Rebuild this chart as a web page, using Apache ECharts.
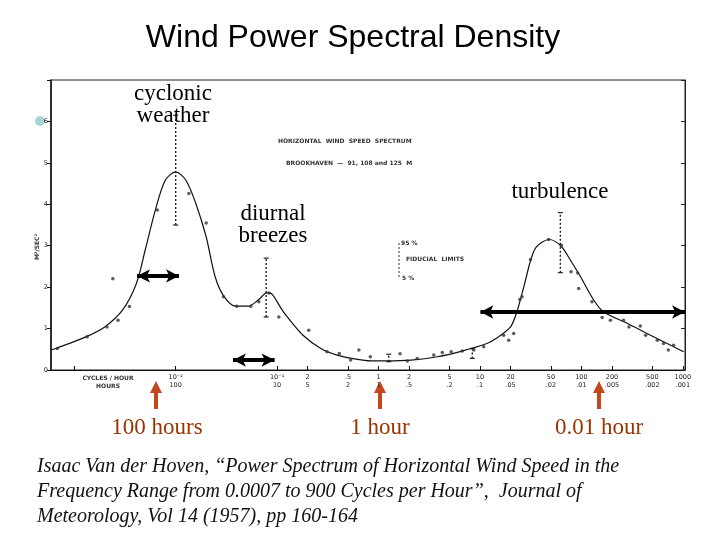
<!DOCTYPE html>
<html>
<head>
<meta charset="utf-8">
<script src="https://cdn.jsdelivr.net/npm/echarts@6/dist/echarts.min.js"></script>
<style>
  html, body { margin: 0; padding: 0; background: #fff; }
  #main { width: 720px; height: 540px; }
</style>
</head>
<body>
<div id="main"></div>
<script>
// smoothed spectrum (cycles per hour, m^2/sec^2)
var curveFreq = [0.0006, 0.00066, 0.0013, 0.002, 0.003, 0.0041, 0.005, 0.0063, 0.0079, 0.01, 0.0126, 0.0158, 0.02, 0.0245, 0.03, 0.039, 0.052, 0.066, 0.079, 0.089, 0.112, 0.126, 0.18, 0.27, 0.39, 0.58, 0.83, 1.23, 2.1, 3.8, 6.5, 11.7, 14, 20, 23.4, 27, 31.6, 36, 48, 62, 78, 98, 132, 166, 282, 479, 813, 1020];
var curveValue = [0.49, 0.52, 0.8, 1.04, 1.45, 2.09, 2.89, 3.86, 4.58, 4.78, 4.58, 4.02, 3.21, 2.25, 1.77, 1.54, 1.54, 1.7, 1.86, 1.83, 1.45, 1.28, 0.84, 0.52, 0.36, 0.27, 0.22, 0.22, 0.24, 0.32, 0.45, 0.64, 0.74, 1.04, 1.45, 2.0, 2.65, 2.97, 3.15, 3.01, 2.65, 2.25, 1.69, 1.4, 1.13, 0.84, 0.56, 0.44];

// observed points
var obsFreq = [0.00068, 0.00134, 0.0021, 0.0027, 0.0035, 0.0024, 0.0066, 0.0135, 0.02, 0.0296, 0.04, 0.055, 0.066, 0.083, 0.104, 0.205, 0.31, 0.41, 0.53, 0.64, 0.83, 1.63, 1.92, 2.4, 3.5, 4.25, 5.2, 6.7, 8.7, 10.9, 17.1, 19.2, 21.5, 24.7, 26, 31.5, 47.5, 63.5, 79, 92, 94, 127, 160, 193, 260, 294, 381, 430, 560, 645, 810, 720];
var obsValue = [0.52, 0.8, 1.04, 1.2, 1.53, 2.2, 3.86, 4.26, 3.55, 1.77, 1.54, 1.54, 1.65, 1.86, 1.28, 0.96, 0.44, 0.4, 0.24, 0.48, 0.32, 0.39, 0.22, 0.28, 0.36, 0.42, 0.44, 0.46, 0.48, 0.56, 0.84, 0.72, 0.88, 1.7, 1.77, 2.67, 3.15, 3.01, 2.37, 2.34, 1.97, 1.65, 1.27, 1.2, 1.2, 1.04, 1.06, 0.84, 0.72, 0.64, 0.6, 0.48];

// fiducial limits (vertical bars)
var errFreq = [0.01, 0.078, 62, 1.26, 8.4];
var errLow = [3.5, 1.28, 2.35, 0.2, 0.28];
var errHigh = [6.15, 2.7, 3.8, 0.38, 0.52];

// double arrows: frequency span and level
var spanFrom = [0.00416, 0.0367, 10.1];
var spanTo = [0.0108, 0.0944, 1050];
var spanLevel = [2.27, 0.24, 1.4];

// axis ticks
var tickFreqs = [0.001, 0.01, 0.1, 0.2, 0.5, 1, 2, 5, 10, 20, 50, 100, 200, 500, 1000];
var tickCycleLabels = ['', '10⁻²', '10⁻¹', '2', '.5', '1', '2', '5', '10', '20', '50', '100', '200', '500', '1000'];
var tickHourLabels = ['', '100', '10', '5', '2', '1', '.5', '.2', '.1', '.05', '.02', '.01', '.005', '.002', '.001'];
var xMinFreq = 0.00059, xMaxFreq = 1050;

var lg = Math.log10;

var myChart = echarts.init(document.getElementById('main'));

var curveData = curveFreq.map(function (f, i) { return [lg(f), curveValue[i]]; });
var obsData = obsFreq.map(function (f, i) { return [lg(f), obsValue[i]]; });
var errData = [];
for (var i = 0; i < errFreq.length; i++) {
	errData.push([lg(errFreq[i]), errLow[i]]);
	errData.push([lg(errFreq[i]), errHigh[i]]);
	errData.push('-');
}
var spanLines = [];
for (var j = 0; j < spanFrom.length; j++) {
	spanLines.push([{ coord: [lg(spanFrom[j]), spanLevel[j]] }, { coord: [lg(spanTo[j]), spanLevel[j]] }]);
}
var tickLogs = tickFreqs.map(lg);

function tickIndex(v) {
	for (var k = 0; k < tickLogs.length; k++) {
		if (Math.abs(tickLogs[k] - v) < 1e-6) return k;
	}
	return -1;
}

var scanText = { fontSize: 6, fill: '#333', fontFamily: 'DejaVu Sans', fontWeight: 'bold' };
var serif23 = '23px "Liberation Serif", "Times New Roman", serif';

function upArrow(x) {
	return {
		type: 'polygon',
		shape: { points: [[x, 381], [x + 6, 393], [x + 2, 393], [x + 2, 409], [x - 2, 409], [x - 2, 393], [x - 6, 393]] },
		style: { fill: '#c4461c' }
	};
}

option = {
	backgroundColor: '#fff',
	animation: false,
	grid: {
		left: 51, top: 80, right: 35, bottom: 170,
		show: true, borderColor: '#222', borderWidth: 1
	},
	xAxis: [{
		type: 'value',
		min: lg(xMinFreq),
		max: lg(xMaxFreq),
		splitLine: { show: false },
		axisLine: { onZero: false, lineStyle: { color: '#111', width: 1.2 } },
		axisTick: { inside: true, length: 4, customValues: tickLogs, lineStyle: { color: '#111' } },
		axisLabel: {
			customValues: tickLogs,
			fontSize: 6.5,
			lineHeight: 8,
			margin: 3,
			color: '#222',
			fontFamily: 'DejaVu Sans',
			formatter: function (v) {
				var k = tickIndex(v);
				if (k < 0) return '';
				return tickCycleLabels[k] + '\n' + tickHourLabels[k];
			}
		}
	}],
	yAxis: [{
		type: 'value',
		position: 'left',
		min: 0, max: 7, interval: 1,
		splitLine: { show: false },
		axisLine: { show: true, onZero: false, lineStyle: { color: '#111', width: 1.5 } },
		axisTick: { show: true, length: 4, lineStyle: { color: '#111' } },
		axisLabel: {
			fontSize: 6.5, margin: 3, color: '#222', fontFamily: 'DejaVu Sans',
			formatter: function (v) { return v === 7 ? '' : v; }
		}
	}, {
		type: 'value',
		position: 'right',
		min: 0, max: 7, interval: 1,
		splitLine: { show: false },
		axisLine: { show: true, onZero: false, lineStyle: { color: '#222', width: 1 } },
		axisTick: { show: true, inside: true, length: 4, lineStyle: { color: '#222' } },
		axisLabel: { show: false }
	}],
	series: [{
		name: 'spectrum',
		type: 'line',
		data: curveData,
		smooth: 0.3,
		symbol: 'none',
		lineStyle: { color: '#111', width: 1.2 },
		z: 3,
		markLine: {
			silent: true,
			symbol: ['arrow', 'arrow'],
			symbolSize: [10, 13],
			label: { show: false },
			lineStyle: { color: '#000', width: 4, type: 'solid' },
			data: spanLines
		}
	}, {
		name: 'observed',
		type: 'scatter',
		data: obsData,
		symbolSize: 3.5,
		itemStyle: { color: '#333' },
		z: 4
	}, {
		name: 'limits',
		type: 'line',
		data: errData,
		symbol: 'rect',
		symbolSize: [5, 1.2],
		itemStyle: { color: '#222' },
		lineStyle: { color: '#222', width: 1.4, type: [2, 2] },
		z: 2
	}],
	graphic: [
		{ type: 'text', style: { text: 'Wind Power Spectral Density', x: 353, y: 38, align: 'center', verticalAlign: 'middle', font: '32px "Liberation Sans", Arial, sans-serif', fill: '#000' } },
		{ type: 'circle', shape: { cx: 40, cy: 121, r: 5 }, style: { fill: '#a9d4d4' } },
		{ type: 'text', style: { text: 'cyclonic\nweather', x: 173, y: 105, align: 'center', verticalAlign: 'middle', lineHeight: 22, font: serif23, fill: '#000' } },
		{ type: 'text', style: { text: 'diurnal\nbreezes', x: 273, y: 225, align: 'center', verticalAlign: 'middle', lineHeight: 22, font: serif23, fill: '#000' } },
		{ type: 'text', style: { text: 'turbulence', x: 560, y: 192, align: 'center', verticalAlign: 'middle', font: serif23, fill: '#000' } },
		{ type: 'text', style: Object.assign({ text: 'HORIZONTAL  WIND  SPEED  SPECTRUM', x: 278, y: 141, verticalAlign: 'middle' }, scanText) },
		{ type: 'text', style: Object.assign({ text: 'BROOKHAVEN  —  91, 108 and 125  M', x: 286, y: 163, verticalAlign: 'middle' }, scanText) },
		{ type: 'line', shape: { x1: 399, y1: 243, x2: 399, y2: 277 }, style: { stroke: '#333', lineWidth: 1, lineDash: [2, 2] } },
		{ type: 'text', style: Object.assign({ text: '95 %', x: 401, y: 243, verticalAlign: 'middle' }, scanText) },
		{ type: 'text', style: Object.assign({ text: 'FIDUCIAL  LIMITS', x: 406, y: 259, verticalAlign: 'middle' }, scanText) },
		{ type: 'text', style: Object.assign({ text: '5 %', x: 402, y: 278, verticalAlign: 'middle' }, scanText) },
		{ type: 'text', style: Object.assign({ text: 'CYCLES / HOUR', x: 108, y: 378, align: 'center', verticalAlign: 'middle' }, scanText) },
		{ type: 'text', style: Object.assign({ text: 'HOURS', x: 108, y: 386, align: 'center', verticalAlign: 'middle' }, scanText) },
		{ type: 'text', x: 37, y: 247, rotation: Math.PI / 2, style: Object.assign({ text: 'M²/SEC²', x: 0, y: 0, align: 'center', verticalAlign: 'middle' }, scanText) },
		upArrow(156), upArrow(380), upArrow(599),
		{ type: 'text', style: { text: '100 hours', x: 157, y: 428, align: 'center', verticalAlign: 'middle', font: serif23, fill: '#993300' } },
		{ type: 'text', style: { text: '1 hour', x: 380, y: 428, align: 'center', verticalAlign: 'middle', font: serif23, fill: '#993300' } },
		{ type: 'text', style: { text: '0.01 hour', x: 599, y: 428, align: 'center', verticalAlign: 'middle', font: serif23, fill: '#993300' } },
		{ type: 'text', style: { text: 'Isaac Van der Hoven, “Power Spectrum of Horizontal Wind Speed in the\nFrequency Range from 0.0007 to 900 Cycles per Hour”,  Journal of\nMeteorology, Vol 14 (1957), pp 160-164', x: 37, y: 454, lineHeight: 25, font: 'italic 20px "Liberation Serif", "Times New Roman", serif', fill: '#111' } }
	]
};
myChart.setOption(option);
</script>
</body>
</html>
